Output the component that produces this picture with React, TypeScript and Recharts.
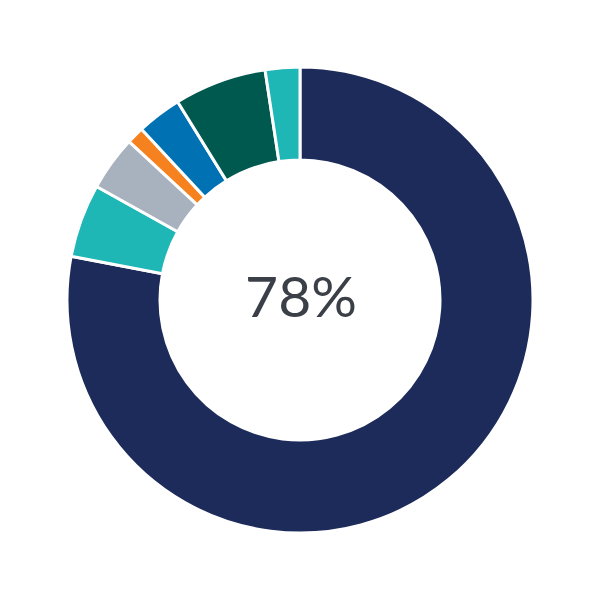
import * as React from "react"
import { Cell, Pie, PieChart } from "recharts"

// slices, clockwise from 12 o'clock
const labels = ["A", "B", "C", "D", "E", "F", "G"]
const values = [78, 5.1, 3.8, 1.2, 3.1, 6.4, 2.4]
const colors = ["#1c2b5a", "#1fb6b6", "#a8b2bf", "#f5821f", "#0072b3", "#00594f", "#1fb6b6"]
const centerLabel = "78%"

export default function App() {
  const data = labels.map((name, i) => ({ name, value: values[i] }))

  return (
    <div style={{ position: "absolute", left: 0, top: 0, width: 600, height: 600, background: "#fff" }}>
      <PieChart width={600} height={600} margin={{ top: 0, right: 0, bottom: 0, left: 0 }}>
        <Pie
          data={data}
          dataKey="value"
          nameKey="name"
          cx={300}
          cy={300}
          innerRadius={140}
          outerRadius={233}
          startAngle={90}
          endAngle={-270}
          stroke="#ffffff"
          strokeWidth={3}
          isAnimationActive={false}
        >
          {data.map((d, i) => (
            <Cell key={d.name + i} fill={colors[i]} />
          ))}
        </Pie>
        {/* alphabetic baseline, so the caps sit at the same y as the reference */}
        <text
          x={301}
          y={317}
          textAnchor="middle"
          fontFamily="Lato, 'Open Sans', sans-serif"
          fontSize={57}
          fill="#3b3f47"
        >
          {centerLabel}
        </text>
      </PieChart>
    </div>
  )
}
